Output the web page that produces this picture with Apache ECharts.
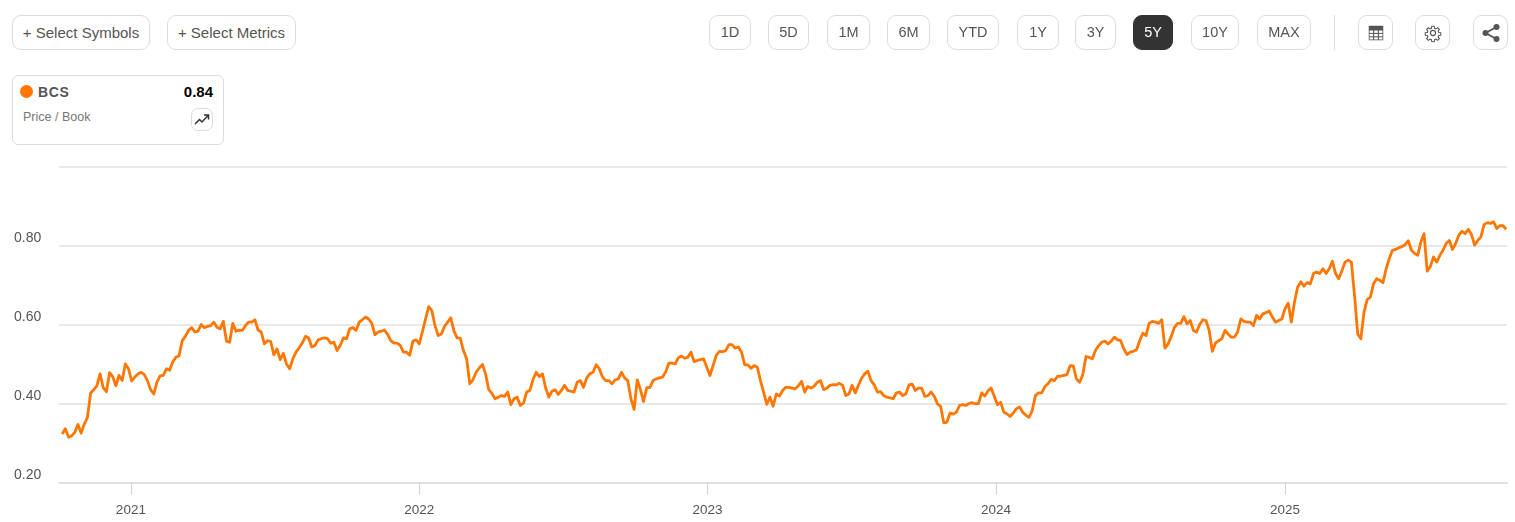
<!DOCTYPE html>
<html>
<head>
<meta charset="utf-8">
<script src="https://cdn.jsdelivr.net/npm/echarts@6/dist/echarts.min.js"></script>
<style>
html,body{margin:0;padding:0;background:#fff;width:1515px;height:522px;overflow:hidden;font-family:"Liberation Sans",Arial,sans-serif}
#chart{position:absolute;left:0;top:0;width:1515px;height:522px}
.b{position:absolute;top:15px;height:35px;box-sizing:border-box;border:1px solid #dcdcdc;border-radius:9px;background:#fff;color:#555;font-size:14.5px;line-height:33px;text-align:center;white-space:nowrap}
.b.w{font-size:15px}
.b.on{background:#333;border-color:#333;color:#fff}
.b svg{position:absolute;left:50%;top:50%;transform:translate(-50%,-50%)}
#div{position:absolute;left:1334px;top:15px;width:1px;height:35px;background:#ddd}
#card{position:absolute;left:12px;top:75px;width:212px;height:70px;box-sizing:border-box;border:1px solid #dcdcdc;border-radius:6px;background:#fff}
#dot{position:absolute;left:7px;top:9px;width:13px;height:13px;border-radius:50%;background:#ff7600}
#sym{position:absolute;left:25px;top:8px;font-size:14px;font-weight:bold;color:#555;letter-spacing:.6px}
#val{position:absolute;right:10px;top:7px;font-size:15px;font-weight:bold;color:#000}
#met{position:absolute;left:10px;top:34px;font-size:12.5px;color:#777}
#tr{position:absolute;left:178px;top:32px;width:22px;height:23px;box-sizing:border-box;border:1px solid #dcdcdc;border-radius:7px}
#tr svg{position:absolute;left:2px;top:3px}
</style>
</head>
<body>
<div id="chart"></div>
<div class="b w" style="left:12px;width:138px">+ Select Symbols</div>
<div class="b w" style="left:167px;width:129px">+ Select Metrics</div>
<div class="b" style="left:709px;width:42px">1D</div>
<div class="b" style="left:768px;width:41px">5D</div>
<div class="b" style="left:827px;width:43px">1M</div>
<div class="b" style="left:887px;width:43px">6M</div>
<div class="b" style="left:947px;width:52px">YTD</div>
<div class="b" style="left:1017px;width:42px">1Y</div>
<div class="b" style="left:1075px;width:41px">3Y</div>
<div class="b on" style="left:1133px;width:40px">5Y</div>
<div class="b" style="left:1191px;width:48px">10Y</div>
<div class="b" style="left:1257px;width:54px">MAX</div>
<div id="div"></div>
<div class="b" style="left:1358px;width:35px"><svg width="15" height="15" viewBox="0 0 15 15"><rect x="0" y="0" width="15" height="15" fill="#555"/><g fill="#fff"><rect x="1" y="5" width="3.6" height="2.4"/><rect x="5.7" y="5" width="3.6" height="2.4"/><rect x="10.4" y="5" width="3.6" height="2.4"/><rect x="1" y="8.4" width="3.6" height="2.4"/><rect x="5.7" y="8.4" width="3.6" height="2.4"/><rect x="10.4" y="8.4" width="3.6" height="2.4"/><rect x="1" y="11.8" width="3.6" height="2.2"/><rect x="5.7" y="11.8" width="3.6" height="2.2"/><rect x="10.4" y="11.8" width="3.6" height="2.2"/></g></svg></div>
<div class="b" style="left:1415px;width:35px"><svg width="19" height="19" viewBox="0 0 24 24" fill="none" stroke="#555" stroke-width="1.5"><circle cx="12" cy="12" r="3.2"/><path d="M10.3 2.5h3.4l.5 2.9 1.9.8 2.4-1.7 2.4 2.4-1.7 2.4.8 1.9 2.9.5v3.4l-2.9.5-.8 1.9 1.7 2.4-2.4 2.4-2.4-1.7-1.9.8-.5 2.9h-3.4l-.5-2.9-1.9-.8-2.4 1.7-2.4-2.4 1.7-2.4-.8-1.9-2.9-.5v-3.4l2.9-.5.8-1.9-1.7-2.4 2.4-2.4 2.4 1.7 1.9-.8z" transform="translate(1.2 1.2) scale(.9)"/></svg></div>
<div class="b" style="left:1473px;width:35px"><svg width="19" height="19" viewBox="0 0 19 19"><path d="M15 3.5 4 9.5 15 15.5" fill="none" stroke="#555" stroke-width="1.8"/><circle cx="15" cy="3.5" r="3" fill="#555"/><circle cx="4" cy="9.5" r="3" fill="#555"/><circle cx="15" cy="15.5" r="3" fill="#555"/></svg></div>
<div id="card">
  <div id="dot"></div><div id="sym">BCS</div><div id="val">0.84</div><div id="met">Price / Book</div>
  <div id="tr"><svg width="16" height="15" viewBox="0 0 16 15"><path d="M1 12 5.5 7.5 8 10 14 3.5M10 3h4.5v4.5" fill="none" stroke="#333" stroke-width="1.5"/></svg></div>
</div>
<script>
const firstDate = '2020-10-06';
const stepDays = 4;
const axisStart = '2020-10-02';
const axisEnd = '2025-10-09';
const yearTicks = ['2021-01-01','2022-01-01','2023-01-01','2024-01-01','2025-01-01'];
const values2020to21 = [.323,.336,.315,.318,.327,.347,.325,.348,.365,.426,.435,.445,.475,.44,.43,.478,.468,.445,.471,.458,.50,.488,.457,.467,.475,.479,.473,.458,.435,.424,.454,.47,.471,.488,.484,.505,.517,.521,.559,.57,.585,.592,.581,.583,.60,.592,.595,.597,.606,.593,.589,.608,.558,.555,.603,.583,.586,.585,.597,.606,.606,.612,.586,.581];
const values2021to22 = [.551,.559,.557,.523,.538,.511,.527,.50,.488,.513,.53,.541,.553,.57,.566,.543,.547,.561,.564,.566,.564,.553,.555,.534,.547,.566,.564,.589,.592,.585,.606,.612,.619,.614,.603,.574,.581,.583,.586,.575,.559,.553,.553,.547,.53,.53,.522,.558,.561,.551,.581,.614,.645,.635,.597,.572,.576,.595,.606,.617,.583,.566,.565,.534,.513,.45];
const values2022 = [.46,.479,.49,.499,.475,.435,.426,.412,.416,.42,.418,.429,.397,.412,.416,.395,.401,.429,.433,.46,.479,.468,.475,.44,.416,.431,.435,.423,.433,.446,.433,.431,.429,.454,.458,.441,.465,.475,.479,.498,.488,.467,.458,.458,.45,.46,.462,.479,.465,.458,.412,.385,.46,.435,.405,.44,.44,.458,.462,.465,.467,.48,.502,.502];
const values2023a = [.50,.516,.52,.515,.517,.53,.506,.509,.511,.513,.492,.471,.496,.522,.532,.531,.534,.549,.549,.54,.543,.53,.498,.498,.489,.496,.492,.458,.429,.398,.416,.393,.424,.419,.433,.441,.441,.439,.437,.445,.456,.429,.443,.439,.444,.454,.458,.435,.439,.446,.448,.447,.451,.446,.42,.424,.446,.427,.446,.464,.475,.482,.458,.447,.429];
const values2023b = [.43,.42,.416,.414,.412,.427,.429,.42,.424,.447,.449,.433,.439,.439,.418,.42,.429,.418,.399,.393,.351,.353,.376,.373,.378,.395,.397,.395,.40,.402,.399,.40,.427,.419,.432,.439,.418,.397,.403,.378,.374,.367,.376,.387,.391,.378,.37,.365,.382,.42,.427,.427,.443,.45,.461,.458,.469,.469,.471,.473,.496,.495,.462,.454,.473];
const values2024 = [.519,.517,.513,.534,.546,.555,.558,.551,.558,.568,.561,.559,.538,.524,.53,.532,.536,.559,.578,.572,.603,.608,.606,.603,.612,.54,.551,.57,.593,.603,.603,.62,.602,.61,.585,.581,.60,.612,.61,.585,.532,.553,.559,.564,.585,.576,.568,.568,.581,.614,.608,.606,.606,.597,.623,.614,.627,.63,.634,.619,.606,.61,.614,.64,.654];
const values2025 = [.606,.657,.695,.708,.697,.706,.703,.729,.733,.729,.741,.729,.741,.76,.729,.716,.736,.758,.763,.758,.674,.576,.564,.631,.663,.669,.703,.716,.712,.706,.741,.767,.788,.79,.794,.797,.802,.812,.788,.78,.775,.809,.83,.735,.747,.771,.758,.775,.788,.805,.813,.79,.805,.826,.836,.83,.841,.828,.801,.813,.822,.853,.858,.856,.86,.843,.85,.85,.841];
const priceToBook = [].concat(values2020to21,values2021to22,values2022,values2023a,values2023b,values2024,values2025);
const toMs = d=>Date.parse(d+'T00:00:00Z');
const start = toMs(firstDate);
const series = priceToBook.map((v,i)=>[start+i*stepDays*86400000,v]);
const tickTimes = yearTicks.map(toMs);
const chart = echarts.init(document.getElementById('chart'),null,{renderer:'canvas'});
chart.setOption({
  animation:false,
  grid:{left:59,top:166.5,width:1448,height:316,containLabel:false},
  xAxis:{type:'value',min:toMs(axisStart),max:toMs(axisEnd),scale:true,
    axisLine:{show:true,onZero:false,lineStyle:{color:'#e0e0e0',width:2}},
    axisTick:{show:true,customValues:tickTimes,length:12,lineStyle:{color:'#d0d0d0',width:1}},
    axisLabel:{customValues:tickTimes,formatter:v=>String(new Date(v).getUTCFullYear()),color:'#555',fontSize:13.5,fontFamily:'Liberation Sans',margin:20.5,showMinLabel:true,showMaxLabel:true},
    splitLine:{show:false}},
  yAxis:{type:'value',min:.2,max:1,interval:.2,
    axisLine:{show:false},axisTick:{show:false},
    axisLabel:{align:'left',verticalAlign:'bottom',margin:45,color:'#555',fontSize:14,fontFamily:'Liberation Sans',lineHeight:14,formatter:v=>v>.99?'':v.toFixed(2)},
    splitLine:{lineStyle:{color:'#e0e0e0',width:1.5}}},
  series:[{type:'line',name:'BCS',data:series,showSymbol:false,symbol:'none',smooth:false,lineStyle:{color:'#ff7600',width:2.8,join:'round'},itemStyle:{color:'#ff7600'}}]
});
</script>
</body>
</html>
